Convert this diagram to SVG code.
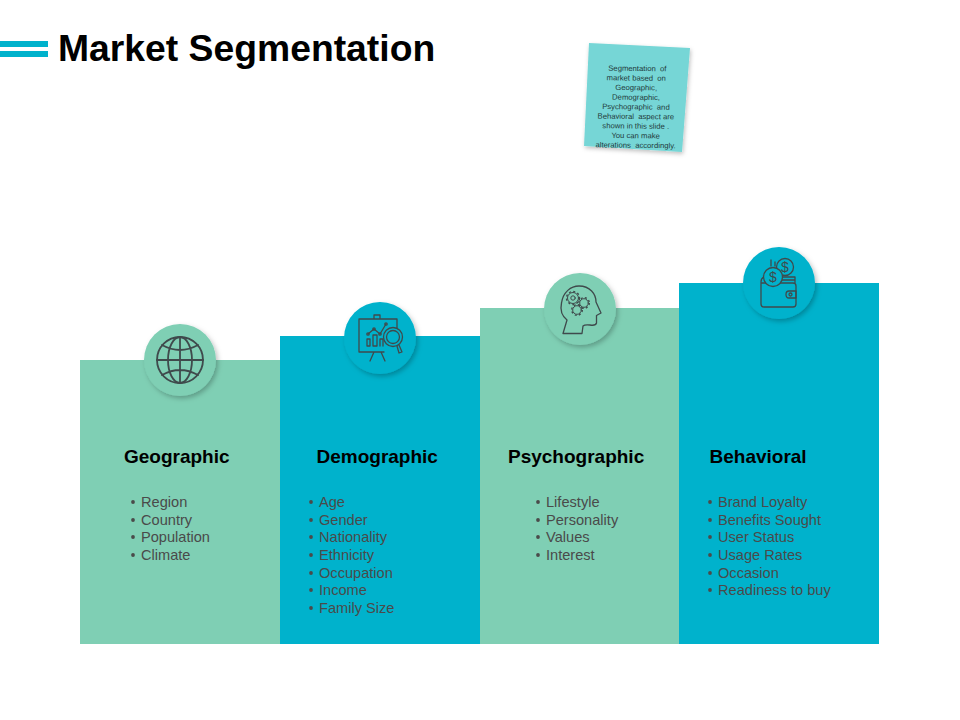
<svg xmlns="http://www.w3.org/2000/svg" width="960" height="720" viewBox="0 0 960 720">
<style>
text{font-family:"Liberation Sans",Arial,sans-serif}
.title{font-size:37.3px;font-weight:700;fill:#000}
.head{font-size:19px;font-weight:700;fill:#000}
.item{font-size:14.6px;fill:#4a4a4a}
.note{font-size:7.7px;fill:#1f3a3a;text-anchor:middle;white-space:pre}
.ic{fill:none;stroke:#3f4a4c;stroke-width:1.3;stroke-linecap:round;stroke-linejoin:round}
.g{fill:#7fcfb4}.b{fill:#00b2cc}
</style>
<defs>
<filter id="sh" x="-30%" y="-30%" width="170%" height="170%"><feDropShadow dx="2" dy="2.500" stdDeviation="2.600" flood-color="#000" flood-opacity=".25"/></filter>
<filter id="nsh" x="-20%" y="-20%" width="140%" height="140%"><feDropShadow dx="1" dy="2" stdDeviation="2" flood-color="#000" flood-opacity=".25"/></filter>
<g id="bullet"><circle r="1.900" fill="#4a4a4a"/></g>
</defs>
<g id="title-mark"><rect x="0" y="41" width="48" height="6" class="b"/><rect x="0" y="51" width="48" height="6" class="b"/></g>
<text class="title" x="58" y="61">Market Segmentation</text>
<g id="note">
<polygon points="589,43 690,48 682,152 584,146" fill="#76d6d6" filter="url(#nsh)"/>
<g transform="rotate(0.6 636 100)">
<text class="note"><tspan x="637" y="71">Segmentation  of</tspan><tspan x="636" y="80.6">market based  on</tspan><tspan x="636" y="90.2">Geographic,</tspan><tspan x="636" y="99.8">Demographic,</tspan><tspan x="636" y="109.4">Psychographic  and</tspan><tspan x="636" y="119">Behavioral  aspect are</tspan><tspan x="636" y="128.6">shown in this slide .</tspan><tspan x="636" y="138.2">You can make</tspan><tspan x="636" y="147.8">alterations  accordingly.</tspan></text>
</g>
</g>
<g id="geographic">
<rect x="80" y="360" width="200" height="284" class="g"/>
<circle cx="180" cy="360" r="36" class="g" filter="url(#sh)"/>
<g class="ic" style="stroke-width:1.800"><circle cx="180" cy="360" r="23"/><ellipse cx="180" cy="360" rx="12" ry="23"/><path d="M180 337V383M157 360H203M162 345Q180 355 198 345M162 375Q180 365 198 375"/></g>
<text class="head" x="124" y="462.500">Geographic</text>
<use href="#bullet" x="133" y="502"/><text class="item" x="141" y="507">Region</text><use href="#bullet" x="133" y="520"/><text class="item" x="141" y="525">Country</text><use href="#bullet" x="133" y="537"/><text class="item" x="141" y="542">Population</text><use href="#bullet" x="133" y="555"/><text class="item" x="141" y="560">Climate</text>
</g>
<g id="demographic">
<rect x="280" y="336" width="200" height="308" class="b"/>
<circle cx="380" cy="338" r="36" class="b" filter="url(#sh)"/>
<g class="ic"><path d="M374 319V315H380V319M384 352H359V319H397V328M374 352 370 361M381 352 385 361"/><path d="M367 346V339H370V346ZM373 346V335H377V346ZM380 346V339H383V346M368 334 374 329 380 334 386 324"/><circle cx="368" cy="334" r="1.200"/><circle cx="374" cy="329" r="1.200"/><circle cx="380" cy="334" r="1.200"/><circle cx="386" cy="324" r="1.200"/><circle cx="393" cy="337" r="9.500"/><circle cx="393" cy="337" r="6.500"/><path d="M397 346 399 353 402 352 399 345"/></g>
<text class="head" x="316.500" y="462.500">Demographic</text>
<use href="#bullet" x="311" y="502"/><text class="item" x="319" y="507">Age</text><use href="#bullet" x="311" y="520"/><text class="item" x="319" y="525">Gender</text><use href="#bullet" x="311" y="537"/><text class="item" x="319" y="542">Nationality</text><use href="#bullet" x="311" y="555"/><text class="item" x="319" y="560">Ethnicity</text><use href="#bullet" x="311" y="573"/><text class="item" x="319" y="578">Occupation</text><use href="#bullet" x="311" y="590"/><text class="item" x="319" y="595">Income</text><use href="#bullet" x="311" y="608"/><text class="item" x="319" y="613">Family Size</text>
</g>
<g id="psychographic">
<rect x="480" y="308" width="199" height="336" class="g"/>
<circle cx="580" cy="309" r="36" class="g" filter="url(#sh)"/>
<g class="ic"><path d="M563 333.500 567 320C562 316 560 310 561.500 303 563 292 571 286 579 286 590 286 596 294 596 302L601 313 596.500 315.500V323C596 325 593 325.500 590 325 586 324.500 584 325 583 326L582 333.500Z"/><g stroke-width="1"><circle cx="573" cy="298" r="2.200"/><circle cx="573" cy="298" r="5.500"/><circle cx="573" cy="298" r="6.500" stroke-width="1.400" stroke-dasharray="2 2.300" stroke-linecap="butt"/><circle cx="584" cy="303" r="4.300"/><circle cx="584" cy="303" r="5.300" stroke-width="1.400" stroke-dasharray="2 2.200" stroke-linecap="butt"/><circle cx="577" cy="310" r="4.300"/><circle cx="577" cy="310" r="5.300" stroke-width="1.400" stroke-dasharray="2 2.200" stroke-linecap="butt"/></g></g>
<text class="head" x="508" y="462.500">Psychographic</text>
<use href="#bullet" x="538" y="502"/><text class="item" x="546" y="507">Lifestyle</text><use href="#bullet" x="538" y="520"/><text class="item" x="546" y="525">Personality</text><use href="#bullet" x="538" y="537"/><text class="item" x="546" y="542">Values</text><use href="#bullet" x="538" y="555"/><text class="item" x="546" y="560">Interest</text>
</g>
<g id="behavioral">
<rect x="679" y="283" width="200" height="361" class="b"/>
<circle cx="779" cy="283" r="36" class="b" filter="url(#sh)"/>
<g class="ic"><path d="M761 282V304Q761 307 764 307H793Q796 307 796 304V286Q796 283 793 283H761M761 282Q761 278 764 277M782 277H795V283M782 280H795"/><path d="M796 291H789Q786 291 786 294.500 786 298 789 298H796Z"/><circle cx="790.500" cy="294.500" r="1.500"/><circle cx="785" cy="267" r="8.500"/><circle cx="773" cy="277" r="9.500" style="fill:#00b2cc"/><path d="M771 260V266M775 262V266"/></g>
<text x="785" y="272" text-anchor="middle" font-size="14" fill="#3f4a4c">$</text><text x="773" y="282" text-anchor="middle" font-size="14" fill="#3f4a4c">$</text>
<text class="head" x="709.500" y="462.500">Behavioral</text>
<use href="#bullet" x="710" y="502"/><text class="item" x="718" y="507">Brand Loyalty</text><use href="#bullet" x="710" y="520"/><text class="item" x="718" y="525">Benefits Sought</text><use href="#bullet" x="710" y="537"/><text class="item" x="718" y="542">User Status</text><use href="#bullet" x="710" y="555"/><text class="item" x="718" y="560">Usage Rates</text><use href="#bullet" x="710" y="573"/><text class="item" x="718" y="578">Occasion</text><use href="#bullet" x="710" y="590"/><text class="item" x="718" y="595">Readiness to buy</text>
</g>
<g id="connectors"/>
</svg>
